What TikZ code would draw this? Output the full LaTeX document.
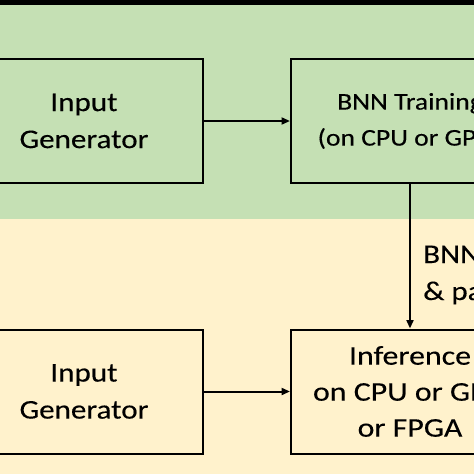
\documentclass[tikz,border=0pt]{standalone}
\usepackage{fontspec}
\usepackage{graphicx}
\setmainfont{Carlito}[FakeBold=0.2]
\usetikzlibrary{arrows.meta}
\definecolor{bggreen}{HTML}{C5E0B4}
\definecolor{bgcream}{HTML}{FFF2CC}
\newcommand{\wideA}[1]{\scalebox{1.15}[1]{#1}}
\newcommand{\wideB}[1]{\scalebox{1.18}[1]{#1}}
\tikzset{
  blockbox/.style={draw=black, line width=2pt, minimum width=238pt, minimum height=124pt, inner sep=0pt, align=center},
  conn/.style={line width=2pt, -{Triangle[length=8.5pt,width=7pt]}},
  bigtxt/.style={font=\fontsize{27}{37}\selectfont},
  midtxt/.style={font=\fontsize{24}{36}\selectfont}
}
\begin{document}
\begin{tikzpicture}[x=1pt,y=-1pt]
\useasboundingbox (0,0) rectangle (474,474);
\clip (0,0) rectangle (474,474);
\fill[bggreen] (-10,0) rectangle (490,219);
\fill[bgcream] (-10,219) rectangle (490,490);
\fill[black] (-10,-5) rectangle (490,5);
\node[blockbox, bigtxt] (ig1) at (84,121) {\wideA{Input}\\\wideA{Generator}};
\node[blockbox, midtxt] (bnn) at (410,121) {\wideA{BNN Training}\\\wideA{(on CPU or GPU)}};
\node[blockbox, bigtxt] (ig2) at (84,391.5) {\wideA{Input}\\\wideA{Generator}};
\node[blockbox, font=\fontsize{27}{36}\selectfont] (inf) at (410,391.5) {\wideB{Inference}\\\wideB{on CPU or GPU}\\\wideB{or FPGA}};
\draw[conn] (ig1.east) -- (bnn.west);
\draw[conn] (ig2.east) -- (inf.west);
\draw[conn] (bnn.south) -- (inf.north);
\node[anchor=base west, inner sep=0pt, align=left, font=\fontsize{27}{37}\selectfont] (lab) at (423,300) {\wideA{BNN model}\\\wideA{\& parameters}};
\end{tikzpicture}
\end{document}
